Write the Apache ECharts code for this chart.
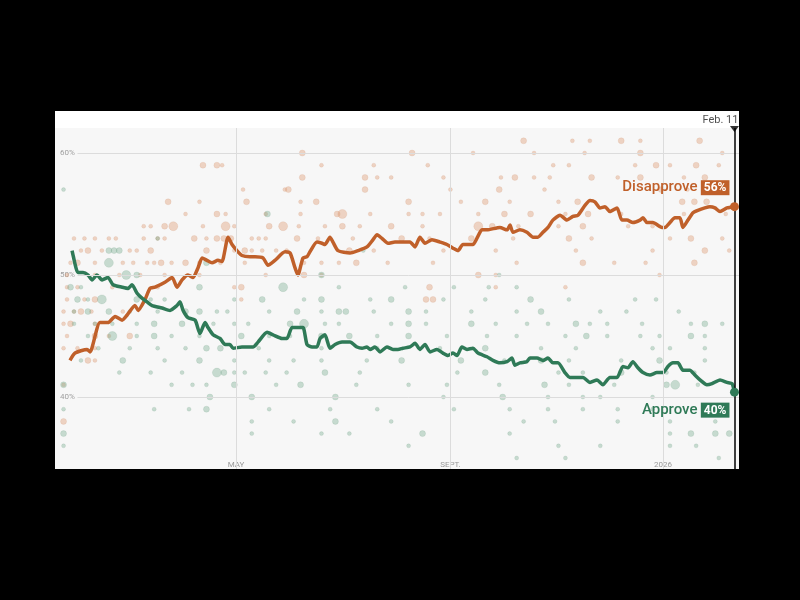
<!DOCTYPE html>
<html>
<head>
<meta charset="utf-8">
<script src="https://cdn.jsdelivr.net/npm/echarts@6/dist/echarts.min.js"></script>
<style>
  html, body { margin: 0; padding: 0; background: #000; }
  #main { width: 800px; height: 600px; }
</style>
</head>
<body>
<div id="main"></div>
<script>
// days counted from Jan. 20, 2025
var monthDays = [101, 224, 346];
var monthLabels = ['MAY', 'SEPT.', '2026'];
var pctTicks = [40, 50, 60];
var todayDay = 387;
var todayLabel = 'Feb. 11';

// polling averages [day, pct]
var disapproveAvg = [
  [5.7,43.0],[8.6,43.6],[15.5,43.9],[17.2,43.7],[22.9,46.1],[27.5,46.1],[31.6,46.6],[35.6,46.3],
  [38.4,46.7],[43.0,47.5],[44.8,47.1],[48.8,48.0],[51.6,48.9],[54.5,49.0],[60.2,49.4],[64.3,49.8],
  [67.1,49.0],[70.0,49.6],[73.4,50.0],[76.3,49.8],[79.2,50.6],[81.5,51.4],[84.3,51.2],[87.2,51.0],
  [90.6,51.2],[92.9,51.1],[96.4,53.1],[98.7,52.5],[101.5,52.0],[104.4,51.6],[109.0,51.5],[111.9,51.5],
  [116.5,51.4],[119.3,50.8],[123.3,51.2],[129.1,51.9],[132.0,51.8],[134.8,50.6],[136.5,50.0],[139.4,51.4],
  [141.7,51.5],[143.4,51.9],[147.4,52.7],[150.3,52.6],[152.0,52.5],[154.9,53.1],[156.6,52.7],[159.5,52.0],
  [166.4,51.8],[171.0,52.0],[176.1,52.3],[179.6,52.9],[181.9,53.3],[184.7,53.0],[188.2,52.6],[192.2,52.7],
  [200.8,52.7],[203.7,52.3],[206.5,53.1],[209.4,52.6],[213.4,52.9],[218.0,52.7],[222.0,52.5],[225.5,52.2],
  [228.3,52.0],[231.2,52.5],[236.9,52.5],[239.2,53.0],[242.1,53.7],[245.0,53.7],[252.4,53.9],[256.5,53.7],
  [258.2,54.1],[259.9,53.5],[263.9,53.7],[267.9,53.5],[271.4,53.1],[274.2,53.1],[277.1,53.5],[280.0,53.9],
  [282.8,54.5],[286.9,54.9],[290.9,54.5],[294.3,54.8],[297.2,54.9],[301.2,55.7],[304.1,56.1],[306.9,56.0],
  [309.8,55.5],[312.7,55.6],[315.5,55.2],[319.6,55.5],[322.4,54.5],[325.3,54.5],[328.7,54.3],[332.8,54.5],
  [334.5,54.7],[336.8,54.3],[340.2,54.3],[345.4,53.9],[347.1,53.9],[350.0,54.3],[352.8,54.7],[355.7,54.7],
  [357.4,53.9],[360.3,54.5],[363.2,55.1],[366.0,55.3],[370.0,55.5],[372.9,55.6],[375.8,55.5],[378.7,55.2],
  [382.7,55.5],[387.0,55.6]
];
var approveAvg = [
  [6.9,52.0],[7.5,51.6],[10.3,50.2],[13.2,50.2],[16.1,50.0],[18.4,49.6],[21.2,50.0],[24.1,49.6],
  [27.5,49.8],[30.4,49.2],[35.6,49.0],[39.0,48.9],[41.3,49.2],[44.2,48.5],[47.0,48.1],[49.9,47.8],
  [52.8,47.5],[58.5,47.3],[63.1,47.1],[67.1,47.5],[68.8,47.8],[70.6,47.1],[73.4,46.5],[77.5,46.3],
  [80.3,45.2],[83.2,46.1],[84.9,45.7],[87.8,45.1],[91.8,44.8],[94.7,44.3],[97.5,44.3],[99.3,44.0],
  [104.4,44.1],[110.7,44.1],[113.6,44.5],[118.8,45.3],[122.2,45.1],[127.4,44.8],[130.2,44.8],[133.1,45.7],
  [136.0,45.7],[139.4,45.7],[141.7,44.3],[144.6,44.1],[147.4,44.1],[149.2,44.8],[152.0,45.1],[154.9,44.0],
  [157.8,44.3],[161.8,44.5],[166.4,44.5],[170.4,44.1],[173.3,44.0],[176.1,44.1],[177.9,43.9],[180.7,44.1],
  [183.6,43.7],[187.6,44.1],[191.0,43.9],[193.9,43.9],[196.8,44.0],[200.8,44.1],[203.7,44.4],[206.5,43.9],
  [209.4,44.3],[212.3,43.7],[216.3,43.9],[219.7,43.6],[222.6,43.4],[225.5,43.6],[227.8,43.4],[230.6,44.1],
  [233.5,43.9],[236.9,44.0],[239.8,43.6],[245.0,43.3],[248.4,43.0],[252.4,42.8],[256.5,42.9],[259.3,43.2],
  [261.0,42.6],[263.9,42.8],[267.9,42.9],[269.6,43.2],[273.7,43.2],[277.1,43.0],[280.0,43.2],[282.8,42.8],
  [285.7,42.8],[289.7,42.0],[292.6,41.6],[296.6,41.6],[300.1,41.6],[304.1,41.2],[308.1,41.4],[311.5,41.0],
  [315.5,41.6],[319.6,41.6],[323.0,42.5],[325.9,42.4],[328.7,42.9],[331.6,42.4],[334.5,42.0],[338.5,41.8],
  [342.5,42.0],[346.0,42.0],[348.8,42.5],[351.7,42.8],[354.6,42.8],[357.4,42.2],[361.4,42.2],[364.3,41.8],
  [367.2,41.4],[371.2,41.0],[374.1,41.1],[378.7,41.4],[382.7,41.2],[385.6,41.1],[387.0,40.4]
];

// individual polls [day, pct, weight]
var disapprovePolls = [
  [266,61,2],[294,61,1],[304,61,1],[322,61,2],[333,61,1],[367,61,2],
  [139,60,2],[202,60,2],[237,60,1],[272,60,1],[301,60,1],[333,60,2],[380,60,1],
  [82,59,2],[90,59,2],[93,59,1],[150,59,1],[180,59,1],[211,59,1],[283,59,1],[292,59,1],[330,59,1],[342,59,2],[350,59,1],[365,59,2],[378,59,1],
  [139,58,2],[175,58,2],[182,58,1],[190,58,1],[220,58,1],[253,58,1],[261,58,2],[272,58,1],[281,58,1],[305,58,2],[320,58,1],[333,58,2],[358,58,1],[370,58,2],
  [105,57,1],[129,57,1],[131,57,2],[175,57,2],[224,57,1],[252,57,2],[278,57,1],[345,57,2],[360,57,1],
  [62,56,2],[80,56,1],[107,56,2],[138,56,1],[147,56,2],[200,56,2],[230,56,1],[244,56,2],[258,56,1],[286,56,1],[297,56,2],[357,56,2],[364,56,2],[371,56,2],
  [72,55,1],[90,55,2],[95,55,1],[118,55,1],[138,55,1],[159,55,2],[162,55,3],[178,55,1],[200,55,1],[208,55,1],[218,55,1],[240,55,1],[255,55,2],[270,55,2],[290,55,1],[303,55,2],[322,55,1],[358,55,1],[382,55,1],
  [48,54,1],[52,54,1],[60,54,2],[65,54,3],[82,54,1],[95,54,3],[100,54,1],[120,54,2],[128,54,3],[137,54,1],[152,54,1],[162,54,2],[172,54,1],[190,54,2],[208,54,1],[240,54,3],[248,54,2],[263,54,1],[286,54,1],[300,54,2],[326,54,1],[340,54,1],
  [8,53,1],[14,53,1],[20,53,1],[28,53,1],[32,53,1],[48,53,1],[56,53,1],[60,53,1],[77,53,2],[84,53,1],[90,53,2],[94,53,2],[98,53,2],[110,53,1],[114,53,1],[118,53,1],[136,53,2],[148,53,1],[168,53,1],[196,53,2],[212,53,1],[236,53,2],[260,53,1],[292,53,2],[305,53,1],[350,53,1],[362,53,2],[380,53,1],
  [12,52,1],[16,52,2],[24,52,1],[40,52,1],[44,52,1],[52,52,2],[84,52,2],[100,52,1],[106,52,2],[110,52,1],[116,52,1],[124,52,1],[130,52,1],[166,52,2],[180,52,1],[220,52,1],[250,52,1],[296,52,1],[340,52,1],[370,52,2],[384,52,1],
  [6,51,1],[10,51,2],[20,51,1],[36,51,1],[42,51,1],[50,51,1],[54,51,1],[58,51,2],[64,51,1],[72,51,2],[80,51,1],[92,51,1],[106,51,1],[140,51,1],[150,51,1],[160,51,1],[170,51,2],[188,51,1],[214,51,1],[262,51,1],[300,51,2],[318,51,1],[336,51,1],[364,51,2],
  [4,50,1],[20,50,1],[34,50,1],[46,50,1],[60,50,1],[80,50,1],[118,50,1],[140,50,2],[150,50,1],[240,50,2],[250,50,1],[344,50,1],
  [4,49,1],[10,49,1],[30,49,1],[56,49,1],[100,49,1],[104,49,2],[212,49,2],[250,49,1],[290,49,1],
  [4,48,1],[14,48,1],[20,48,2],[104,48,1],[210,48,2],[214,48,2],
  [2,47,1],[8,47,1],[12,47,2],[18,47,1],[36,47,1],
  [2,46,1],[6,46,2],[20,46,1],
  [4,45,1],[20,45,2],[28,45,1],[40,45,2],
  [2,44,1],[10,44,1],[20,44,1],
  [16,43,2],[20,43,1],
  [2,41,1],[2,38,2]
];
var approvePolls = [
  [2,57,1],[119,55,2],[56,53,1],
  [28,52,2],[31,52,2],[34,52,2],[174,52,1],
  [28,51,3],[84,51,2],
  [38,50,3],[44,50,2],[150,50,2],[252,50,1],
  [6,49,2],[12,49,1],[80,49,2],[128,49,3],[160,49,1],[198,49,1],[226,49,1],[246,49,1],[262,49,1],
  [10,48,2],[16,48,1],[24,48,3],[44,48,2],[52,48,1],[60,48,1],[100,48,1],[116,48,2],[140,48,1],[150,48,2],[178,48,1],[190,48,2],[220,48,1],[244,48,1],[270,48,2],[292,48,1],[330,48,1],[342,48,1],
  [8,47,1],[16,47,2],[28,47,2],[40,47,1],[56,47,1],[72,47,2],[80,47,2],[90,47,1],[96,47,1],[120,47,1],[136,47,2],[150,47,1],[160,47,2],[164,47,2],[180,47,1],[200,47,2],[210,47,1],[236,47,1],[262,47,1],[276,47,2],[310,47,1],[325,47,1],[355,47,1],
  [8,46,1],[20,46,1],[30,46,1],[44,46,1],[54,46,2],[70,46,2],[88,46,1],[100,46,1],[108,46,1],[132,46,2],[140,46,3],[152,46,1],[160,46,1],[190,46,1],[200,46,2],[210,46,1],[236,46,2],[250,46,1],[268,46,1],[280,46,1],[296,46,2],[304,46,1],[314,46,1],[334,46,1],[362,46,1],[370,46,2],[380,46,1],
  [16,45,1],[30,45,3],[44,45,1],[54,45,2],[64,45,1],[80,45,1],[104,45,2],[120,45,1],[132,45,1],[150,45,2],[166,45,2],[182,45,1],[200,45,2],[222,45,1],[245,45,1],[262,45,1],[290,45,1],[302,45,2],[314,45,1],[333,45,1],[344,45,1],[362,45,2],[370,45,1],
  [22,44,1],[40,44,1],[56,44,1],[72,44,1],[84,44,2],[92,44,2],[114,44,1],[150,44,1],[182,44,1],[218,44,1],[244,44,2],[276,44,1],[296,44,1],[340,44,1],[350,44,1],[370,44,1],
  [12,43,1],[36,43,2],[60,43,1],[80,43,2],[100,43,1],[120,43,1],[134,43,1],[150,43,1],[176,43,1],[196,43,2],[230,43,2],[255,43,1],[276,43,2],[292,43,1],[322,43,1],[344,43,2],[370,43,1],
  [34,42,1],[52,42,1],[70,42,1],[90,42,3],[94,42,2],[100,42,1],[106,42,1],[118,42,1],[130,42,1],[152,42,2],[172,42,1],[228,42,1],[244,42,2],[286,42,1],[300,42,1],[322,42,2],[348,42,1],[364,42,1],
  [2,41,2],[64,41,1],[76,41,1],[84,41,1],[100,41,2],[124,41,1],[138,41,2],[170,41,1],[200,41,1],[222,41,1],[252,41,1],[278,41,2],[292,41,1],[318,41,1],[348,41,2],[353,41,3],[366,41,1],
  [86,40,2],[110,40,2],[158,40,2],[220,40,1],[254,40,2],[280,40,1],[300,40,1],[310,40,1],[340,40,1],
  [2,39,1],[54,39,1],[74,39,1],[84,39,2],[120,39,1],[155,39,1],[182,39,1],[226,39,1],[258,39,1],[280,39,1],[300,39,1],[320,39,1],[340,39,1],
  [110,38,1],[134,38,1],[158,38,2],[190,38,1],[266,38,1],[284,38,1],[320,38,1],[350,38,1],[376,38,1],
  [2,37,2],[110,37,1],[150,37,1],[166,37,1],[208,37,2],[258,37,1],[350,37,1],[362,37,2],[376,37,2],[384,37,2],
  [2,36,1],[200,36,1],[286,36,1],[310,36,1],[350,36,1],[365,36,1],
  [262,35,1],[290,35,1],[378,35,1]
];

var ORANGE = '#c0602a';
var GREEN = '#2f7a57';
var FONT = 'Roboto, "Liberation Sans", sans-serif';
var X_MIN = -2.9, X_MAX = 389.6, Y_MIN = 34.1, Y_MAX = 62.05;

var myChart = echarts.init(document.getElementById('main'));

function dotSize(v) {
  return [4, 6, 9][v[2] - 1];
}

function lastOf(arr) { return arr[arr.length - 1]; }

function endMarks(avg, name, color, dy) {
  var last = lastOf(avg);
  return {
    silent: true,
    animation: false,
    data: [
      { coord: [last[0], last[1]], symbol: 'circle', symbolSize: 9, itemStyle: { color: color }, label: { show: false } },
      {
        coord: [last[0], last[1]], symbol: 'circle', symbolSize: 0,
        label: {
          show: true, position: 'left', distance: 5, offset: [0, dy],
          formatter: '{t|' + name + '} {b|' + Math.round(last[1]) + '%}',
          rich: {
            t: { color: color, fontSize: 15, fontWeight: 500, fontFamily: FONT },
            b: { color: '#fff', backgroundColor: color, fontSize: 12, fontWeight: 'bold', fontFamily: FONT, padding: [2, 3, 1, 3] }
          }
        }
      }
    ]
  };
}

var option = {
  backgroundColor: '#000',
  animation: false,
  graphic: [
    { type: 'rect', z: -10, shape: { x: 55, y: 111, width: 684, height: 17 }, style: { fill: '#fff' } }
  ],
  grid: { left: 55, right: 61, top: 128, bottom: 131, show: true, backgroundColor: '#f7f7f7', borderWidth: 0 },
  xAxis: {
    type: 'value', min: X_MIN, max: X_MAX,
    axisLine: { show: false }, axisTick: { show: false }, splitLine: { show: false },
    axisLabel: {
      inside: true, margin: 0, customValues: monthDays,
      color: '#999', fontSize: 8, fontFamily: FONT,
      formatter: function (v) { return monthLabels[monthDays.indexOf(v)] || ''; }
    }
  },
  yAxis: {
    type: 'value', min: Y_MIN, max: Y_MAX,
    axisLine: { show: false }, axisTick: { show: false }, splitLine: { show: false },
    axisLabel: {
      inside: true, margin: 5, customValues: pctTicks,
      color: '#a0a0a0', fontSize: 8, fontFamily: FONT,
      formatter: '{value}%'
    }
  },
  series: [
    {
      type: 'scatter', name: 'disapprovePolls', data: disapprovePolls, symbolSize: dotSize,
      itemStyle: { color: 'rgba(222,150,110,0.48)', borderColor: 'rgba(200,120,80,0.3)', borderWidth: 0.5 },
      markLine: {
        silent: true, symbol: 'none', animation: false,
        label: { show: false },
        lineStyle: { color: '#dcdcdc', width: 1, type: 'solid' },
        data: pctTicks.map(function (p) { return [{ coord: [10, p] }, { coord: [X_MAX, p] }]; })
          .concat(monthDays.map(function (d) { return { xAxis: d }; }))
      }
    },
    {
      type: 'scatter', name: 'approvePolls', data: approvePolls, symbolSize: dotSize,
      itemStyle: { color: 'rgba(110,165,135,0.45)', borderColor: 'rgba(80,140,110,0.3)', borderWidth: 0.5 }
    },
    {
      type: 'line', name: 'Disapprove', data: disapproveAvg, showSymbol: false, smooth: 0.2, z: 4,
      lineStyle: { color: ORANGE, width: 3.5 }, itemStyle: { color: ORANGE },
      markPoint: endMarks(disapproveAvg, 'Disapprove', ORANGE, -19)
    },
    {
      type: 'line', name: 'Approve', data: approveAvg, showSymbol: false, smooth: 0.2, z: 4,
      lineStyle: { color: GREEN, width: 3.5 }, itemStyle: { color: GREEN },
      markPoint: endMarks(approveAvg, 'Approve', GREEN, 18),
      markLine: {
        silent: true, symbol: 'none', animation: false,
        lineStyle: { color: '#000', width: 1.5, type: 'solid' },
        label: { show: false },
        data: [{ xAxis: todayDay }]
      }
    },
    {
      type: 'scatter', name: 'today', z: 6, silent: true, clip: false,
      data: [[todayDay, Y_MAX]],
      symbol: 'path://M0,0 L10,0 L5,7 Z', symbolSize: [9, 6], symbolOffset: [0, 1],
      itemStyle: { color: '#000' },
      label: {
        show: true, position: 'top', align: 'right', offset: [4, 5],
        formatter: todayLabel, color: '#222', fontSize: 11, fontFamily: FONT
      }
    }
  ]
};

myChart.setOption(option);
</script>
</body>
</html>
